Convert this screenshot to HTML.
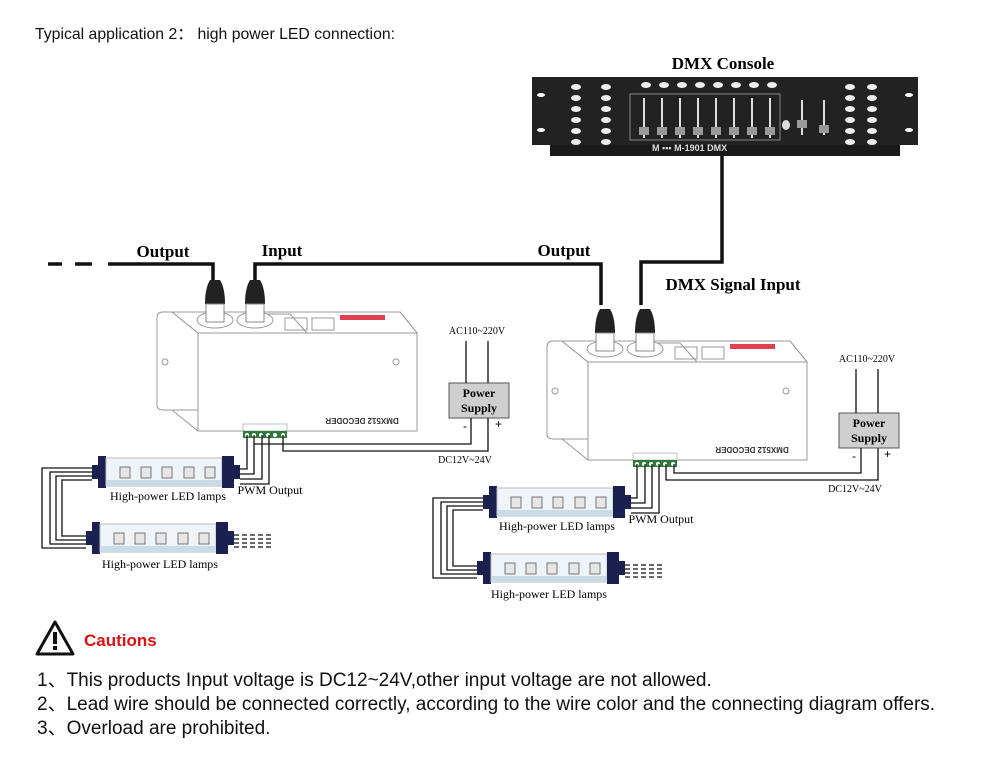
<!DOCTYPE html>
<html><head><meta charset="utf-8"><style>
body{margin:0;background:#fff;width:1000px;height:760px;overflow:hidden;font-family:"Liberation Sans",sans-serif}
svg{position:absolute;left:0;top:0}
.s{font-family:"Liberation Serif",serif}
</style></head><body>
<svg width="1000" height="760" viewBox="0 0 1000 760">
<defs>
<g id="dec">
 <path d="M0,8 Q0,2 6,2 L239,2 Q245,2 245,8 L245,95 Q245,100 239,100 L6,100 Q0,100 0,95 Z" fill="#fff" stroke="#999" stroke-width="1"/>
 <path d="M15,2 L41,23 L260,23 L260,121 L41,121 L41,23 M41,121 L15,100 M243,2 L260,23" fill="#fff" stroke="#999"/>
 <path d="M15,2 L243,2 L260,23 L41,23 Z" fill="#fff" stroke="#999"/>
 <path d="M110,4 L133,4 L150,23" fill="none" stroke="#999"/>
 <rect x="128" y="8" width="22" height="12" fill="none" stroke="#999"/>
 <rect x="155" y="8" width="22" height="12" fill="none" stroke="#999"/>
 <rect x="183" y="5" width="45" height="5" fill="#e04050"/>
 <circle cx="8" cy="52" r="3" fill="none" stroke="#999"/>
 <circle cx="239" cy="52" r="3" fill="none" stroke="#999"/>
 <text x="205" y="114" font-size="8" font-weight="bold" fill="#333" text-anchor="middle" transform="rotate(180 205 111)">DMX512 DECODER</text>
 <rect x="86" y="114" width="44" height="7" fill="#fff" stroke="#999" stroke-width=".6"/>
 <rect x="86" y="121" width="44" height="7" fill="#2d7a3a"/>
 <g fill="#fff"><circle cx="90" cy="125" r="2"/><circle cx="97" cy="125" r="2"/><circle cx="104" cy="125" r="2"/><circle cx="111" cy="125" r="2"/><circle cx="118" cy="125" r="2"/><circle cx="126" cy="125" r="2"/></g>
 <ellipse cx="58" cy="10" rx="18" ry="8" fill="#fff" stroke="#999"/>
 <ellipse cx="98" cy="10" rx="18" ry="8" fill="#fff" stroke="#999"/>
 <g fill="#222">
  <path d="M53,-30 L63,-30 Q68,-22 68,-6 L48,-6 Q48,-22 53,-30 Z"/><path d="M93,-30 L103,-30 Q108,-22 108,-6 L88,-6 Q88,-22 93,-30 Z"/>
 </g>
 <g fill="#fff" stroke="#888"><rect x="49" y="-6" width="18" height="18"/><rect x="89" y="-6" width="18" height="18"/></g>
</g>
<g id="lamp">
 <rect x="0" y="0" width="8" height="32" fill="#1a2150"/>
 <rect x="-6" y="9" width="6" height="14" fill="#1a2150"/>
 <rect x="8" y="2" width="116" height="28" fill="#eef4f8" stroke="#bbb"/>
 <rect x="8" y="24" width="116" height="6" fill="#c8dbe6"/>
 <rect x="124" y="0" width="12" height="32" fill="#1a2150"/>
 <rect x="136" y="9" width="6" height="14" fill="#1a2150"/>
 <g fill="#e6e6e6" stroke="#777"><rect x="22" y="11" width="10" height="11"/><rect x="43" y="11" width="10" height="11"/><rect x="64" y="11" width="10" height="11"/><rect x="86" y="11" width="10" height="11"/><rect x="107" y="11" width="10" height="11"/></g>
</g>
<g id="ps">
 <rect x="0" y="0" width="60" height="35" fill="#cfcfcf" stroke="#555"/>
 <text x="30" y="14" font-size="12" font-weight="bold" text-anchor="middle" font-family="Liberation Serif">Power</text>
 <text x="30" y="29" font-size="12" font-weight="bold" text-anchor="middle" font-family="Liberation Serif">Supply</text>
</g>
</defs>

<text x="35" y="39" font-size="15.8" fill="#111">Typical application 2： high power LED connection:</text>

<text x="723" y="69" font-family="Liberation Serif" font-size="17" font-weight="bold" text-anchor="middle">DMX Console</text>
<rect x="550" y="140" width="350" height="16" fill="#1a1a1a"/>
<rect x="532" y="77" width="386" height="68" fill="#222"/>
<g fill="#eee">
<ellipse cx="576" cy="87" rx="5" ry="3"/><ellipse cx="576" cy="98" rx="5" ry="3"/><ellipse cx="576" cy="109" rx="5" ry="3"/><ellipse cx="576" cy="120" rx="5" ry="3"/><ellipse cx="576" cy="131" rx="5" ry="3"/><ellipse cx="576" cy="142" rx="5" ry="3"/>
<ellipse cx="606" cy="87" rx="5" ry="3"/><ellipse cx="606" cy="98" rx="5" ry="3"/><ellipse cx="606" cy="109" rx="5" ry="3"/><ellipse cx="606" cy="120" rx="5" ry="3"/><ellipse cx="606" cy="131" rx="5" ry="3"/><ellipse cx="606" cy="142" rx="5" ry="3"/>
<ellipse cx="646" cy="85" rx="5" ry="3"/><ellipse cx="664" cy="85" rx="5" ry="3"/><ellipse cx="682" cy="85" rx="5" ry="3"/><ellipse cx="700" cy="85" rx="5" ry="3"/><ellipse cx="718" cy="85" rx="5" ry="3"/><ellipse cx="736" cy="85" rx="5" ry="3"/><ellipse cx="754" cy="85" rx="5" ry="3"/><ellipse cx="772" cy="85" rx="5" ry="3"/>
<ellipse cx="850" cy="87" rx="5" ry="3"/><ellipse cx="850" cy="98" rx="5" ry="3"/><ellipse cx="850" cy="109" rx="5" ry="3"/><ellipse cx="850" cy="120" rx="5" ry="3"/><ellipse cx="850" cy="131" rx="5" ry="3"/><ellipse cx="850" cy="142" rx="5" ry="3"/>
<ellipse cx="872" cy="87" rx="5" ry="3"/><ellipse cx="872" cy="98" rx="5" ry="3"/><ellipse cx="872" cy="109" rx="5" ry="3"/><ellipse cx="872" cy="120" rx="5" ry="3"/><ellipse cx="872" cy="131" rx="5" ry="3"/><ellipse cx="872" cy="142" rx="5" ry="3"/>
</g>
<rect x="630" y="94" width="150" height="46" fill="none" stroke="#888"/>
<g stroke="#ddd" stroke-width="2"><line x1="644" y1="98" x2="644" y2="138"/><line x1="662" y1="98" x2="662" y2="138"/><line x1="680" y1="98" x2="680" y2="138"/><line x1="698" y1="98" x2="698" y2="138"/><line x1="716" y1="98" x2="716" y2="138"/><line x1="734" y1="98" x2="734" y2="138"/><line x1="752" y1="98" x2="752" y2="138"/><line x1="770" y1="98" x2="770" y2="138"/><line x1="802" y1="100" x2="802" y2="135"/><line x1="824" y1="100" x2="824" y2="135"/></g>
<g fill="#999"><rect x="639" y="127" width="10" height="8"/><rect x="657" y="127" width="10" height="8"/><rect x="675" y="127" width="10" height="8"/><rect x="693" y="127" width="10" height="8"/><rect x="711" y="127" width="10" height="8"/><rect x="729" y="127" width="10" height="8"/><rect x="747" y="127" width="10" height="8"/><rect x="765" y="127" width="10" height="8"/><rect x="797" y="120" width="10" height="8"/><rect x="819" y="125" width="10" height="8"/></g>
<ellipse cx="786" cy="125" rx="4" ry="5" fill="#ddd"/>
<text x="652" y="151" font-size="9" font-weight="bold" fill="#ddd">M ▪▪▪ M-1901  DMX</text>
<g fill="#fff"><ellipse cx="541" cy="95" rx="4" ry="2"/><ellipse cx="541" cy="130" rx="4" ry="2"/><ellipse cx="909" cy="95" rx="4" ry="2"/><ellipse cx="909" cy="130" rx="4" ry="2"/></g>

<g fill="none" stroke="#111" stroke-width="3.5">
 <path d="M722,156 L722,262 L641,262 L641,305"/>
 <path d="M255,285 L255,264 L601,264 L601,305"/>
 <path d="M108,264 L213,264 L213,285"/>
 <path d="M48,264 L62,264 M75,264 L92,264"/>
</g>
<text x="163" y="257" font-family="Liberation Serif" font-size="17" font-weight="bold" text-anchor="middle">Output</text>
<text x="282" y="256" font-family="Liberation Serif" font-size="17" font-weight="bold" text-anchor="middle">Input</text>
<text x="564" y="256" font-family="Liberation Serif" font-size="17" font-weight="bold" text-anchor="middle">Output</text>
<text x="733" y="290" font-family="Liberation Serif" font-size="17" font-weight="bold" text-anchor="middle">DMX Signal Input</text>

<use href="#dec" x="157" y="310"/>
<use href="#dec" x="547" y="339"/>

<use href="#ps" x="449" y="383"/>
<text x="477" y="334" font-family="Liberation Serif" font-size="10" text-anchor="middle">AC110~220V</text>
<g stroke="#111" stroke-width="1.3" fill="none">
 <path d="M466,341 L466,383 M488,341 L488,383"/>
 <path d="M254,435 L254,444 L471,444 L471,418"/>
 <path d="M283,435 L283,451 L488,451 L488,418"/>
</g>
<text x="463" y="430" font-size="12">-</text><text x="495" y="428" font-size="12">+</text>
<text x="465" y="463" font-family="Liberation Serif" font-size="10" text-anchor="middle">DC12V~24V</text>

<use href="#ps" x="839" y="413"/>
<text x="867" y="362" font-family="Liberation Serif" font-size="10" text-anchor="middle">AC110~220V</text>
<g stroke="#111" stroke-width="1.3" fill="none">
 <path d="M856,369 L856,413 M878,369 L878,413"/>
 <path d="M674,464 L674,473 L861,473 L861,448"/>
 <path d="M666,464 L666,480 L878,480 L878,448"/>
</g>
<text x="852" y="460" font-size="12">-</text><text x="884" y="458" font-size="12">+</text>
<text x="855" y="492" font-family="Liberation Serif" font-size="10" text-anchor="middle">DC12V~24V</text>

<use href="#lamp" x="98" y="456"/>
<use href="#lamp" x="92" y="522"/>
<g stroke="#111" stroke-width="1.3" fill="none">
 <path d="M247,435 L247,469 L240,469 M254,444 L254,474 L240,474 M262,435 L262,479 L240,479 M269,435 L269,484 L240,484"/>
 <path d="M92,468 L42,468 L42,548 L86,548 M92,472 L50,472 L50,544 L86,544 M92,476 L56,476 L56,540 L86,540 M92,480 L62,480 L62,536 L86,536" />
</g>
<g stroke="#111" stroke-width="1.3" stroke-dasharray="5,3"><path d="M234,535 L272,535 M234,539 L272,539 M234,543 L272,543 M234,547 L272,547"/></g>
<text x="168" y="500" font-family="Liberation Serif" font-size="12" text-anchor="middle">High-power LED lamps</text>
<text x="270" y="494" font-family="Liberation Serif" font-size="12" text-anchor="middle">PWM Output</text>
<text x="160" y="568" font-family="Liberation Serif" font-size="12" text-anchor="middle">High-power LED lamps</text>

<use href="#lamp" x="489" y="486"/>
<use href="#lamp" x="483" y="552"/>
<g stroke="#111" stroke-width="1.3" fill="none">
 <path d="M637,464 L637,498 L631,498 M645,464 L645,503 L631,503 M652,464 L652,508 L631,508 M659,464 L659,513 L631,513"/>
 <path d="M483,498 L433,498 L433,578 L477,578 M483,502 L441,502 L441,574 L477,574 M483,506 L447,506 L447,570 L477,570 M483,510 L453,510 L453,566 L477,566"/>
</g>
<g stroke="#111" stroke-width="1.3" stroke-dasharray="5,3"><path d="M625,565 L663,565 M625,569 L663,569 M625,573 L663,573 M625,577 L663,577"/></g>
<text x="557" y="530" font-family="Liberation Serif" font-size="12" text-anchor="middle">High-power LED lamps</text>
<text x="661" y="523" font-family="Liberation Serif" font-size="12" text-anchor="middle">PWM Output</text>
<text x="549" y="598" font-family="Liberation Serif" font-size="12" text-anchor="middle">High-power LED lamps</text>

<path d="M55,622 L73,654 L37,654 Z" fill="none" stroke="#111" stroke-width="3" stroke-linejoin="round"/>
<rect x="53" y="632" width="4" height="12" fill="#111"/><rect x="53" y="646" width="4" height="4" fill="#111"/>
<text x="84" y="646" font-size="17" font-weight="bold" fill="#e01010">Cautions</text>
<text x="37" y="686" font-size="19" fill="#111">1、This products Input voltage is DC12~24V,other input voltage are not allowed.</text>
<text x="37" y="710" font-size="19" fill="#111">2、Lead wire should be connected correctly, according to the wire color and the connecting diagram offers.</text>
<text x="37" y="734" font-size="19" fill="#111">3、Overload are prohibited.</text>
</svg>
</body></html>
